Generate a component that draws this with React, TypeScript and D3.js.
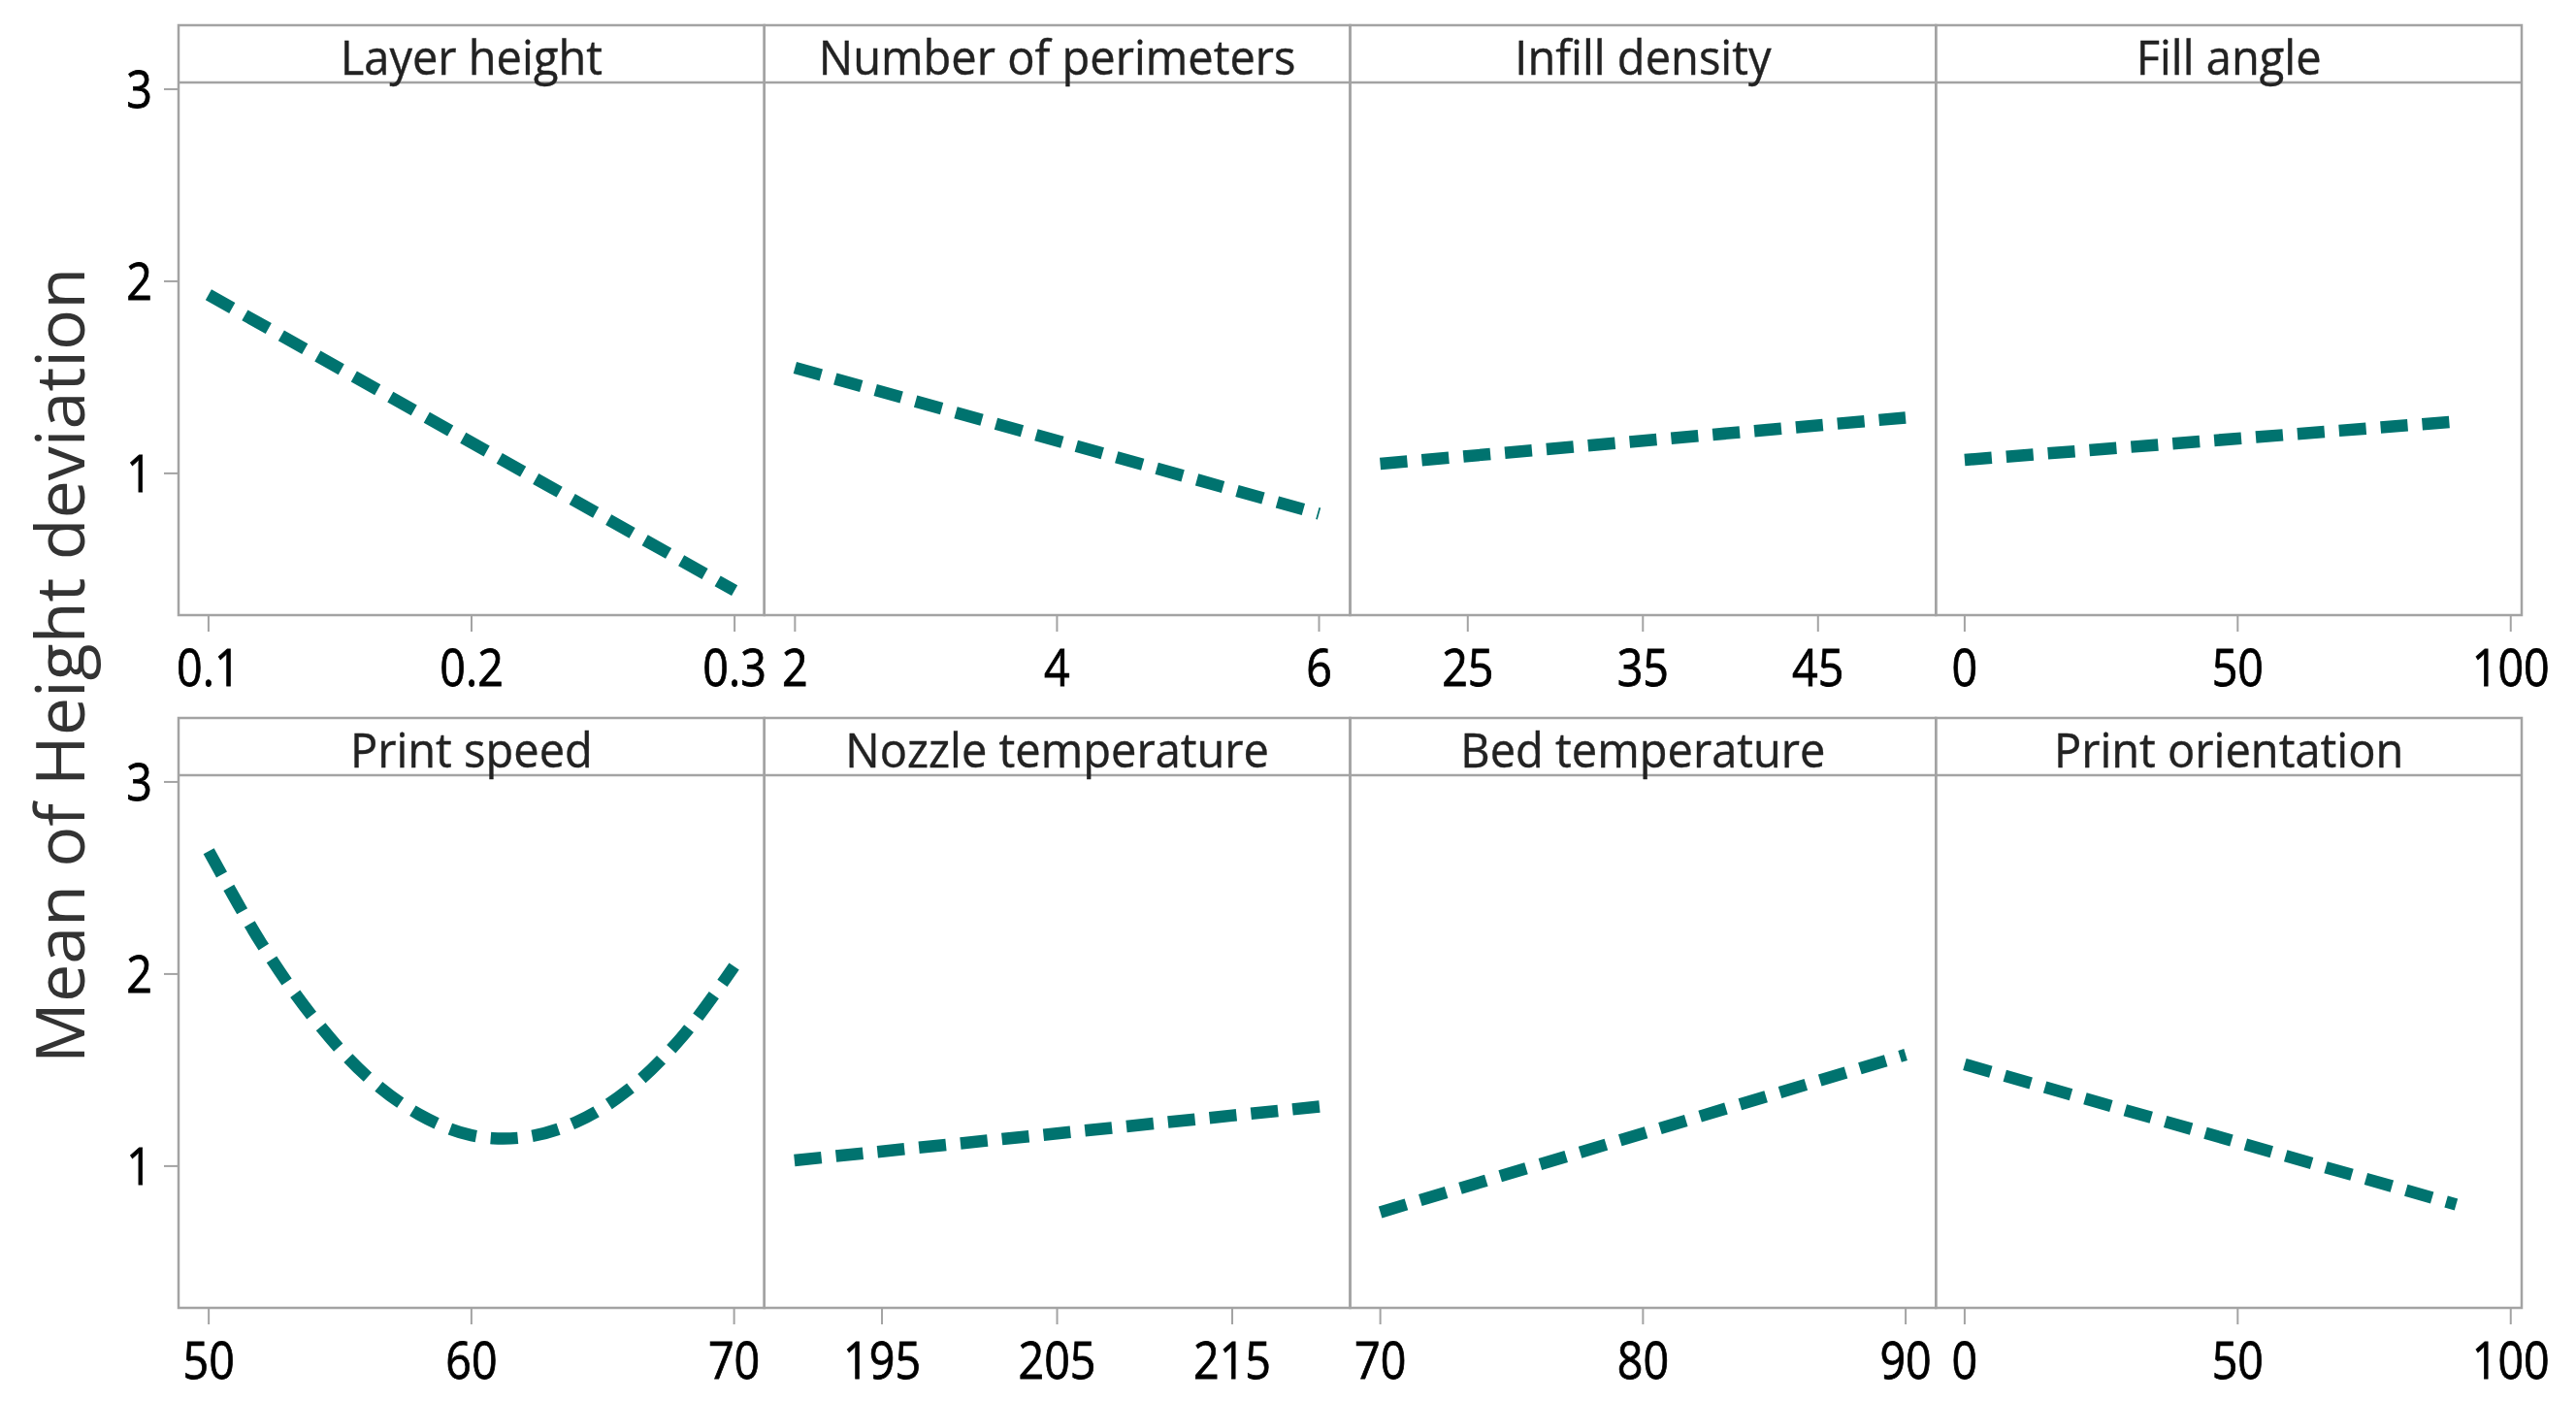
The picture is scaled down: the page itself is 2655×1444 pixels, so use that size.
import React from "react";
import * as d3 from "d3";

// ---------- data ----------
const factorNames = [
  "Layer height",
  "Number of perimeters",
  "Infill density",
  "Fill angle",
  "Print speed",
  "Nozzle temperature",
  "Bed temperature",
  "Print orientation",
];

const layerHeightX = [0.1, 0.3];
const layerHeightY = [1.93, 0.39];
const perimetersX = [2, 6];
const perimetersY = [1.55, 0.79];
const infillX = [20, 50];
const infillY = [1.05, 1.29];
const fillAngleX = [0, 90];
const fillAngleY = [1.07, 1.27];
const printSpeedX = [50, 52, 54, 56, 58, 60, 62, 64, 66, 68, 70];
const printSpeedY = [2.64, 2.16, 1.77, 1.47, 1.27, 1.16, 1.15, 1.23, 1.4, 1.67, 2.04];
const nozzleX = [190, 220];
const nozzleY = [1.03, 1.31];
const bedX = [70, 90];
const bedY = [0.76, 1.58];
const orientationX = [0, 90];
const orientationY = [1.53, 0.8];

const seriesX = [layerHeightX, perimetersX, infillX, fillAngleX, printSpeedX, nozzleX, bedX, orientationX];
const seriesY = [layerHeightY, perimetersY, infillY, fillAngleY, printSpeedY, nozzleY, bedY, orientationY];

// axis scale extents (as set by the plotting software)
const axisLo = [0.0886, 1.766, 18.28, -5.27, 48.85, 188.28, 68.85, -5.27];
const axisHi = [0.3113, 6.237, 51.73, 102.0, 71.15, 221.73, 91.15, 102.0];

const xTicks = [
  [0.1, 0.2, 0.3],
  [2, 4, 6],
  [25, 35, 45],
  [0, 50, 100],
  [50, 60, 70],
  [195, 205, 215],
  [70, 80, 90],
  [0, 50, 100],
];
const xTickLabels = [
  ["0.1", "0.2", "0.3"],
  ["2", "4", "6"],
  ["25", "35", "45"],
  ["0", "50", "100"],
  ["50", "60", "70"],
  ["195", "205", "215"],
  ["70", "80", "90"],
  ["0", "50", "100"],
];
const yTicks = [1, 2, 3];
const yDomain = [0.262, 3.035];
const yTitle = "Mean of Height deviation";

// ---------- layout ----------
const W = 2655;
const H = 1444;
const LEFT = 184;
const RIGHT = 2599;
const ROW_TOPS = [26, 740];
const STRIP_H = 59;
const PLOT_H = 549;
const LINE_COLOR = "#00736f";
const FRAME = "#a3a3a3";
const FONT = "'Open Sans', 'Noto Sans', sans-serif";

export default function App() {
  const colW = (RIGHT - LEFT) / 4;
  const panels = factorNames.map((name, i) => {
    const row = Math.floor(i / 4);
    const col = i % 4;
    const x0 = LEFT + col * colW;
    const x1 = x0 + colW;
    const top = ROW_TOPS[row];
    const plotTop = top + STRIP_H;
    const plotBottom = plotTop + PLOT_H;
    const xs = d3.scaleLinear().domain([axisLo[i], axisHi[i]]).range([x0, x1]);
    const ys = d3.scaleLinear().domain(yDomain).range([plotBottom, plotTop]);
    const pts = seriesX[i].map((x, k) => [x, seriesY[i][k]] as [number, number]);
    const line = d3
      .line<[number, number]>()
      .x((d) => xs(d[0]))
      .y((d) => ys(d[1]))
      .curve(d3.curveCatmullRom.alpha(0.5));
    return { name, i, row, col, x0, x1, top, plotTop, plotBottom, xs, ys, path: line(pts) || "" };
  });

  return (
    <svg
      width={W}
      height={H}
      style={{ position: "absolute", left: 0, top: 0, background: "#fff" }}
      xmlns="http://www.w3.org/2000/svg"
    >
      <rect x={0} y={0} width={W} height={H} fill="#fff" />
      {panels.map((p) => (
        <g key={p.name}>
          {/* data line */}
          <path
            d={p.path}
            fill="none"
            stroke={LINE_COLOR}
            strokeWidth={12.5}
            strokeDasharray="28 15"
          />
          {/* frame */}
          <rect
            x={p.x0}
            y={p.top}
            width={p.x1 - p.x0}
            height={p.plotBottom - p.top}
            fill="none"
            stroke={FRAME}
            strokeWidth={2.5}
          />
          <line x1={p.x0} x2={p.x1} y1={p.plotTop} y2={p.plotTop} stroke={FRAME} strokeWidth={2.5} />
          {/* strip title */}
          <text
            transform={`translate(${(p.x0 + p.x1) / 2}, ${p.plotTop - 8}) scale(0.96, 1)`}
            textAnchor="middle"
            fontFamily={FONT}
            fontSize={49}
            fill="#222"
            stroke="#222"
            strokeWidth={0.4}
          >
            {p.name}
          </text>
          {/* x ticks */}
          {xTicks[p.i].map((t, k) => (
            <g key={k}>
              <line
                x1={p.xs(t)}
                x2={p.xs(t)}
                y1={p.plotBottom}
                y2={p.plotBottom + 17}
                stroke={FRAME}
                strokeWidth={2}
              />
              <text
                transform={`translate(${p.xs(t)}, ${p.plotBottom + 73}) scale(0.88, 1)`}
                textAnchor="middle"
                fontFamily={FONT}
                fontSize={53}
                fill="#000"
                stroke="#000"
                strokeWidth={0.8}
              >
                {xTickLabels[p.i][k]}
              </text>
            </g>
          ))}
          {/* y ticks on first column */}
          {p.col === 0 &&
            yTicks.map((t) => (
              <g key={t}>
                <line x1={p.x0 - 15} x2={p.x0} y1={p.ys(t)} y2={p.ys(t)} stroke={FRAME} strokeWidth={2} />
                <text
                  transform={`translate(${p.x0 - 27}, ${p.ys(t) + 19}) scale(0.88, 1)`}
                  textAnchor="end"
                  fontFamily={FONT}
                  fontSize={53}
                  fill="#000"
                  stroke="#000"
                  strokeWidth={0.8}
                >
                  {t}
                </text>
              </g>
            ))}
        </g>
      ))}
      <text
        transform={`translate(87, 686) rotate(-90)`}
        textAnchor="middle"
        fontFamily={FONT}
        fontSize={70}
        fill="#333"
      >
        {yTitle}
      </text>
    </svg>
  );
}
